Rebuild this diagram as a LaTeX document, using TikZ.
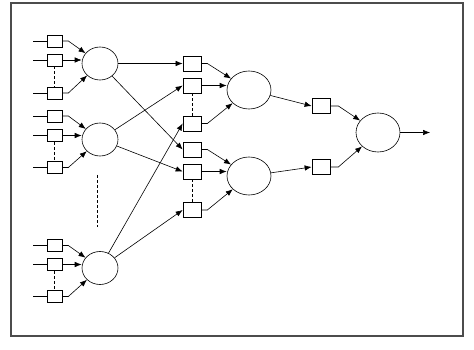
\documentclass[tikz,border=0pt]{standalone}
\usepackage{amssymb}
\usepackage{amsmath}
\usepackage{tikz}
\usetikzlibrary{shapes.geometric,arrows.meta}

\begin{document}
\begin{tikzpicture}[x=1pt,y=-1pt]
				\tikzstyle{every node}+=[inner sep=0pt]
				\tikzstyle{inbox}=[draw=black, line width=0.7pt, minimum width=15pt, minimum height=12pt]
				\tikzstyle{wbox}=[draw=black, line width=0.7pt, minimum width=18pt, minimum height=15pt]
				\tikzstyle{neuron}=[draw=black, line width=0.6pt, ellipse, minimum width=36pt, minimum height=33pt]
				\tikzstyle{bigneuron}=[neuron, minimum width=44pt, minimum height=38pt]
				\tikzstyle{wire}=[black, line width=0.6pt]
				\tikzstyle{arr}=[wire, -{Latex[length=7pt,width=5.5pt]}]
				\tikzstyle{dots}=[black, line width=0.8pt, dash pattern=on 3pt off 2pt]
				\useasboundingbox (0,0) rectangle (474,350);
				\draw [black!70, line width=1.2pt] (11,3) rectangle (463,336);
				% input neurons
				\node [neuron] (n1) at (100,63.5) {};
				\node [neuron] (n2) at (100,139.5) {};
				\node [neuron] (n3) at (100,268) {};
				\node [inbox] (x11) at (54.5,41) {};
				\node [inbox] (x12) at (54.5,60) {};
				\node [inbox] (x13) at (54.5,93) {};
				\node [inbox] (x21) at (54.5,116) {};
				\node [inbox] (x22) at (54.5,135.5) {};
				\node [inbox] (x23) at (54.5,167.5) {};
				\node [inbox] (x31) at (54.5,245.5) {};
				\node [inbox] (x32) at (54.5,264.5) {};
				\node [inbox] (x33) at (54.5,296.5) {};
				\draw [wire] (x11.west) -- ++(-14,0);
				\draw [wire] (x12.west) -- ++(-14,0);
				\draw [wire] (x13.west) -- ++(-14,0);
				\draw [wire] (x21.west) -- ++(-14,0);
				\draw [wire] (x22.west) -- ++(-14,0);
				\draw [wire] (x23.west) -- ++(-14,0);
				\draw [wire] (x31.west) -- ++(-14,0);
				\draw [wire] (x32.west) -- ++(-14,0);
				\draw [wire] (x33.west) -- ++(-14,0);
				\draw [arr] (x11.east) -- ++(6,0) -- (n1);
				\draw [arr] (x12.east) -- (x12.east -| n1.west);
				\draw [arr] (x13.east) -- ++(6,0) -- (n1);
				\draw [arr] (x21.east) -- ++(6,0) -- (n2);
				\draw [arr] (x22.east) -- (x22.east -| n2.west);
				\draw [arr] (x23.east) -- ++(6,0) -- (n2);
				\draw [arr] (x31.east) -- ++(6,0) -- (n3);
				\draw [arr] (x32.east) -- (x32.east -| n3.west);
				\draw [arr] (x33.east) -- ++(6,0) -- (n3);
				\draw [dots] (x12.south) -- (x13.north);
				\draw [dots] (x22.south) -- (x23.north);
				\draw [dots] (x32.south) -- (x33.north);
				\coordinate (gaptop) at (97,175);
				\coordinate (gapbot) at (97,227);
				\draw [dots] (gaptop) -- (gapbot);
				% hidden layer
				\node [wbox] (h1) at (192,63.5) {};
				\node [wbox] (h2) at (192,85.5) {};
				\node [wbox] (h3) at (192,123.5) {};
				\node [wbox] (h4) at (192,149.5) {};
				\node [wbox] (h5) at (192,171.5) {};
				\node [wbox] (h6) at (192,210) {};
				\node [bigneuron] (hA) at (249,90) {};
				\node [bigneuron] (hB) at (249,176) {};
				\draw [arr] (n1) -- (h1.west);
				\draw [arr] (n1) -- (h4.west);
				\draw [arr] (n2) -- (h2.west);
				\draw [arr] (n2) -- (h5.west);
				\draw [arr] (n3) -- (h3.west);
				\draw [arr] (n3) -- (h6.west);
				\draw [arr] (h1.east) -- ++(6,0) -- (hA);
				\draw [arr] (h2.east) -- (h2.east -| hA.west);
				\draw [arr] (h3.east) -- ++(6,0) -- (hA);
				\draw [arr] (h4.east) -- ++(6,0) -- (hB);
				\draw [arr] (h5.east) -- (h5.east -| hB.west);
				\draw [arr] (h6.east) -- ++(6,0) -- (hB);
				\draw [dots] (h2.south) -- (h3.north);
				\draw [dots] (h5.south) -- (h6.north);
				% output
				\node [wbox] (o1) at (321,106) {};
				\node [wbox] (o2) at (321,167) {};
				\node [bigneuron, minimum height=39pt] (out) at (378,132.5) {};
				\coordinate (res) at (430,132.5);
				\draw [arr] (hA) -- (o1.west);
				\draw [arr] (hB) -- (o2.west);
				\draw [arr] (o1.east) -- ++(8,0) -- (out);
				\draw [arr] (o2.east) -- ++(8,0) -- (out);
				\draw [arr] (out) -- (res);
			\end{tikzpicture}
\end{document}
